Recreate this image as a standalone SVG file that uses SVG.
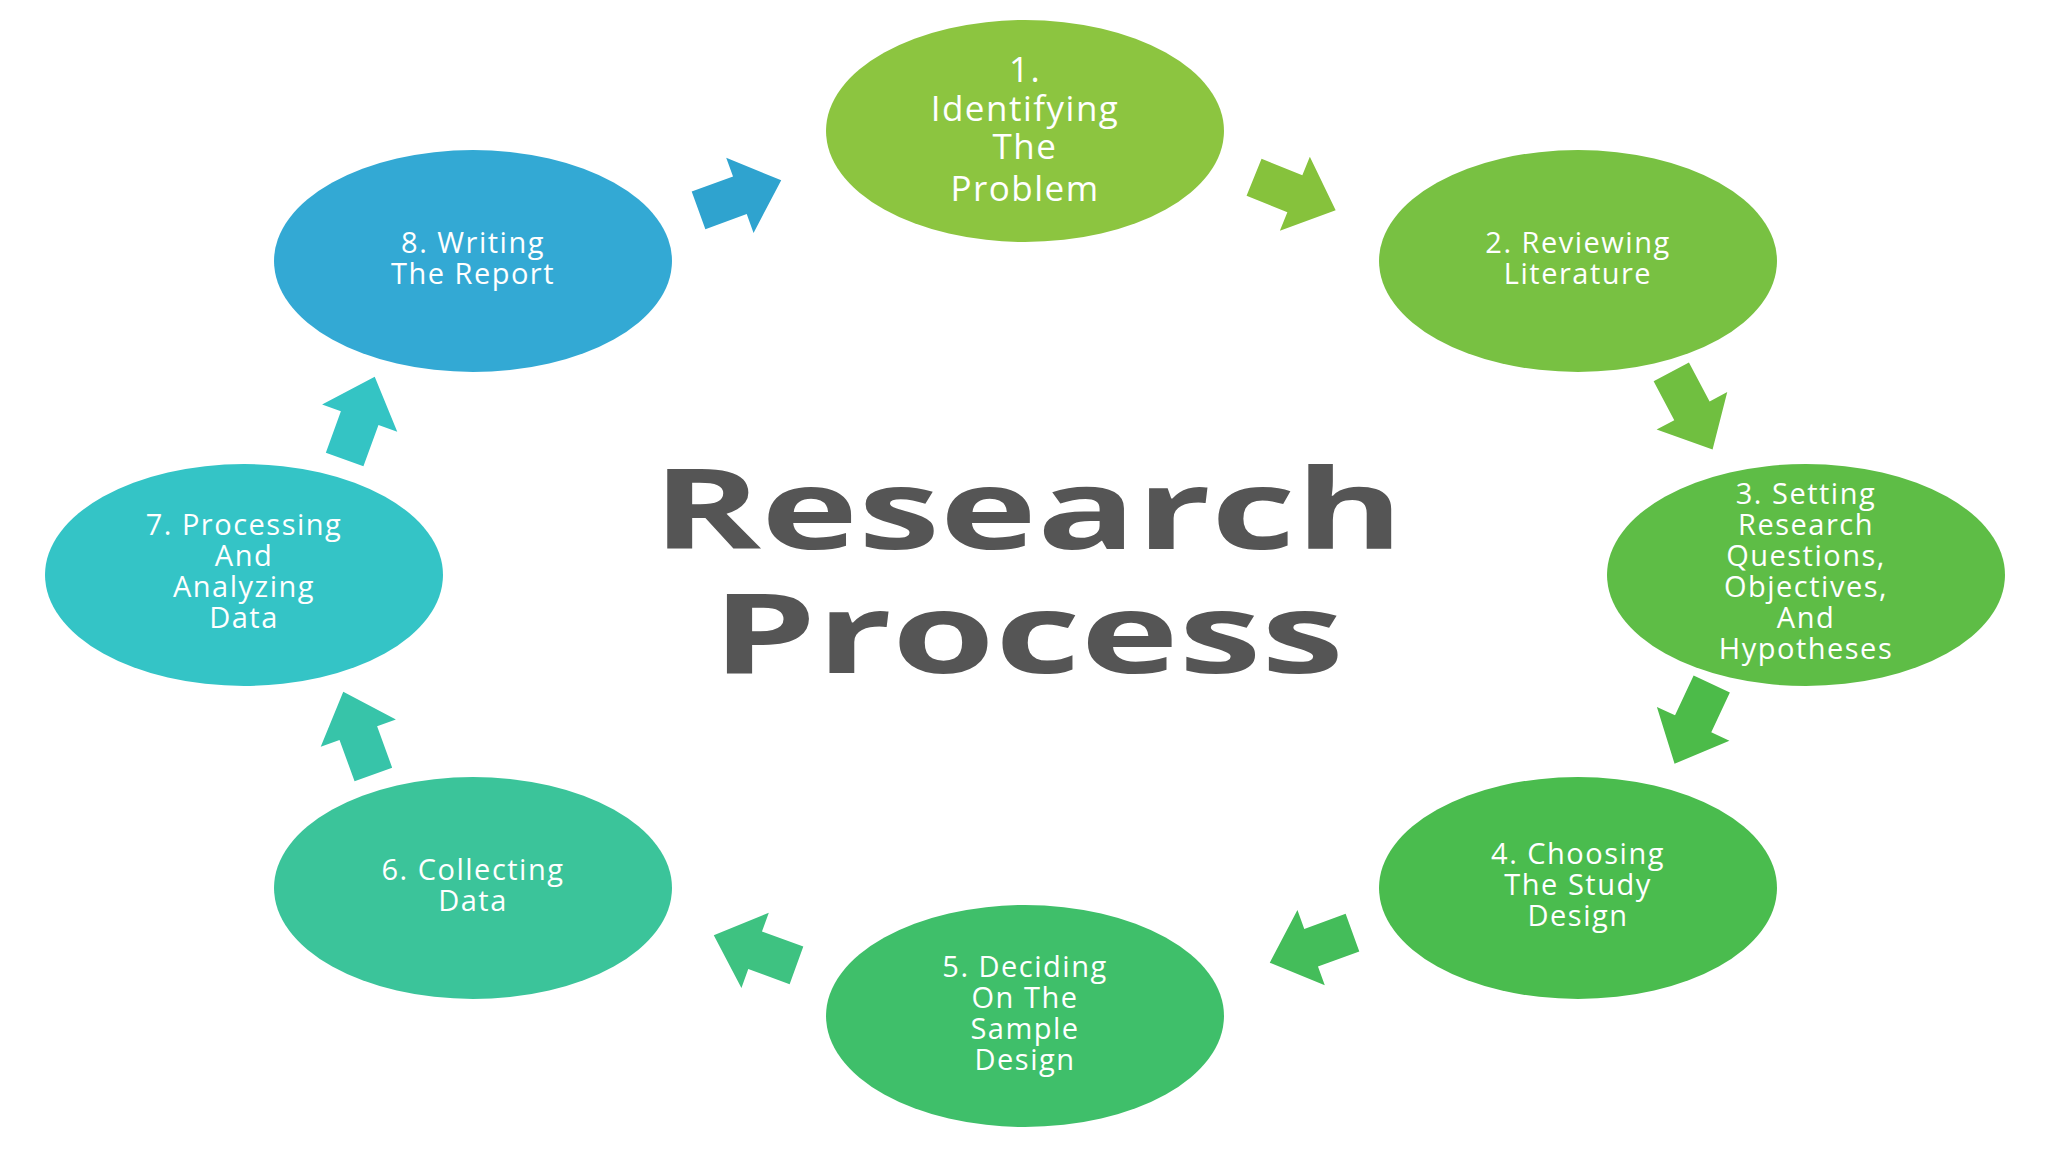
<svg xmlns="http://www.w3.org/2000/svg" width="2048" height="1152" viewBox="0 0 2048 1152">
<defs>
<polygon id="arr" points="-42,-20 2,-20 2,-40 46,0 2,40 2,20 -42,20"/>
</defs>
<style>
.lbl{font-family:"Open Sans","Liberation Sans",sans-serif;font-size:29px;letter-spacing:1.5px;fill:#fff;text-anchor:middle}
.big{font-size:35px}
.title{font-family:"Open Sans","Liberation Sans",sans-serif;font-weight:bold;font-size:112px;fill:#555555;text-anchor:middle}
</style>
<rect width="2048" height="1152" fill="#ffffff"/>
<g id="connectors">
<use href="#arr" transform="translate(738,196) rotate(-20)" fill="#2fa3cf"/>
<use href="#arr" transform="translate(1293,193) rotate(22)" fill="#86c23c"/>
<use href="#arr" transform="translate(1691,409) rotate(62)" fill="#70bf40"/>
<use href="#arr" transform="translate(1694,722) rotate(115)" fill="#4cbb49"/>
<use href="#arr" transform="translate(1313,947) rotate(160)" fill="#44bd5a"/>
<use href="#arr" transform="translate(757,951) rotate(200)" fill="#3ec281"/>
<use href="#arr" transform="translate(359,735) rotate(250)" fill="#37c4a9"/>
<use href="#arr" transform="translate(359,420) rotate(290)" fill="#34c4c4"/>
</g>
<g id="title">
<text class="title" x="1028" y="549" textLength="751" lengthAdjust="spacingAndGlyphs">Research</text>
<text class="title" x="1028" y="673" textLength="632" lengthAdjust="spacingAndGlyphs">Process</text>
</g>
<g id="n1"><ellipse cx="1025" cy="131" rx="199" ry="111" fill="#8cc540"/>
<text class="lbl big" x="1025" y="82">1.</text><text class="lbl big" x="1025" y="121">Identifying</text><text class="lbl big" x="1025" y="159">The</text><text class="lbl big" x="1025" y="201">Problem</text></g>
<g id="n2"><ellipse cx="1578" cy="261" rx="199" ry="111" fill="#78c142"/>
<text class="lbl" x="1578" y="253">2. Reviewing</text><text class="lbl" x="1578" y="284">Literature</text></g>
<g id="n3"><ellipse cx="1806" cy="575" rx="199" ry="111" fill="#5ebd46"/>
<text class="lbl" x="1806" y="504">3. Setting</text><text class="lbl" x="1806" y="535">Research</text><text class="lbl" x="1806" y="566">Questions,</text><text class="lbl" x="1806" y="597">Objectives,</text><text class="lbl" x="1806" y="628">And</text><text class="lbl" x="1806" y="659">Hypotheses</text></g>
<g id="n4"><ellipse cx="1578" cy="888" rx="199" ry="111" fill="#4abc4e"/>
<text class="lbl" x="1578" y="864">4. Choosing</text><text class="lbl" x="1578" y="895">The Study</text><text class="lbl" x="1578" y="926">Design</text></g>
<g id="n5"><ellipse cx="1025" cy="1016" rx="199" ry="111" fill="#3fbf6a"/>
<text class="lbl" x="1025" y="977">5. Deciding</text><text class="lbl" x="1025" y="1008">On The</text><text class="lbl" x="1025" y="1039">Sample</text><text class="lbl" x="1025" y="1070">Design</text></g>
<g id="n6"><ellipse cx="473" cy="888" rx="199" ry="111" fill="#3bc49a"/>
<text class="lbl" x="473" y="880">6. Collecting</text><text class="lbl" x="473" y="911">Data</text></g>
<g id="n7"><ellipse cx="244" cy="575" rx="199" ry="111" fill="#34c4c6"/>
<text class="lbl" x="244" y="535">7. Processing</text><text class="lbl" x="244" y="566">And</text><text class="lbl" x="244" y="597">Analyzing</text><text class="lbl" x="244" y="628">Data</text></g>
<g id="n8"><ellipse cx="473" cy="261" rx="199" ry="111" fill="#33a9d4"/>
<text class="lbl" x="473" y="253">8. Writing</text><text class="lbl" x="473" y="284">The Report</text></g>
</svg>
